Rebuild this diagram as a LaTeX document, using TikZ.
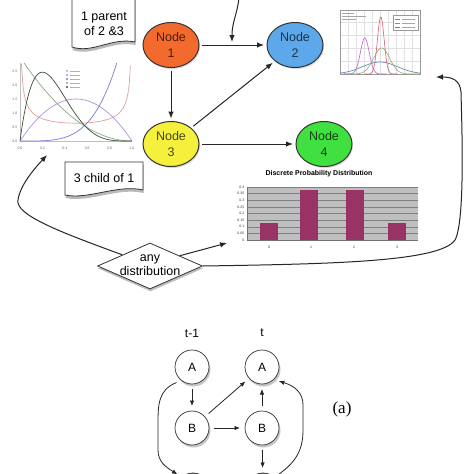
\documentclass[tikz,border=0pt]{standalone}
\usepackage{fontspec}
\setmainfont{Liberation Sans}
\newfontfamily\panelfont{Liberation Serif}
\usetikzlibrary{shapes.geometric,shadows,arrows.meta}
\definecolor{nodeorange}{HTML}{F26A2E}
\definecolor{nodeblue}{HTML}{5CA8EA}
\definecolor{nodeyellow}{HTML}{F5F03C}
\definecolor{nodegreen}{HTML}{40E040}
\definecolor{barplum}{HTML}{993366}
\definecolor{betapink}{HTML}{E0A0A0}
\definecolor{betapurple}{HTML}{B890D8}
\definecolor{betablue}{HTML}{7C7CD0}
\definecolor{betadark}{HTML}{3C4C3C}
\definecolor{betagreen}{HTML}{88A888}
\definecolor{gaussred}{HTML}{D86070}
\definecolor{gaussmag}{HTML}{C060D0}
\definecolor{gaussolive}{HTML}{98A870}
\definecolor{gaussblue}{HTML}{5080B0}
\begin{document}
\begin{tikzpicture}[x=1pt,y=1pt,
  bnode/.style={ellipse,draw=black!80,line width=1pt,minimum width=56pt,minimum height=45pt,inner sep=0pt,outer sep=3pt,align=center,font=\fontsize{12.5}{16}\selectfont,drop shadow={opacity=0.3,shadow xshift=1pt,shadow yshift=-1.5pt}},
  notebox/.style={draw=black!80,fill=white,line width=0.8pt,drop shadow={opacity=0.55,shadow xshift=0.5pt,shadow yshift=-3pt}},
  txt/.style={font=\fontsize{12.5}{14.5}\selectfont,align=center,inner sep=0pt},
  link/.style={draw=black!85,line width=1pt,-{Latex[length=7pt,width=5.5pt]}},
  dbn/.style={circle,draw=black!80,fill=white,line width=0.7pt,minimum size=34pt,inner sep=0pt,outer sep=5pt,font=\fontsize{12}{14}\selectfont,drop shadow={opacity=0.45,shadow xshift=1.5pt,shadow yshift=-2.5pt}},
  dlink/.style={draw=black!85,line width=0.8pt,-{Latex[length=5.5pt,width=4.5pt]}},
  tick/.style={font=\fontsize{3.5}{4}\selectfont,text=black!60,inner sep=0.5pt}]
\useasboundingbox (0,0) rectangle (474,-474);
\fill[white] (0,0) rectangle (474,-474);
\draw[notebox] (72,4) -- (72,-47) .. controls (92,-54) and (112,-37) .. (135,-42) -- (135,4) -- cycle;
\node[txt] (parentnote) at (104,-24) {1 parent\\of 2 \&3};
\draw[notebox] (65,-162) -- (65,-195) .. controls (88,-200) and (118,-184) .. (143,-190) -- (143,-162) -- cycle;
\node[txt] (childnote) at (104,-178) {3 child of 1};
\node[bnode,fill=nodeorange,text=nodeorange!30!black] (n1) at (171,-45) {Node\\1};
\node[bnode,fill=nodeblue,text=nodeblue!30!black] (n2) at (295,-45) {Node\\2};
\node[bnode,fill=nodeyellow,text=nodeyellow!30!black] (n3) at (171,-144) {Node\\3};
\node[bnode,fill=nodegreen,text=nodegreen!30!black] (n4) at (324,-144) {Node\\4};
\draw[link] (n1) -- (n2);
\draw[link] (n1) -- (n3);
\draw[link] (n3) -- (n2);
\draw[link] (n3) -- (n4);
\coordinate (topin) at (239,2);
\coordinate (midlink) at (232,-42);
\draw[link] (topin) .. controls (237,-15) and (232,-22) .. (midlink);
\fill[white] (337,-9) rectangle (423,-76);
\foreach \gx in {340,348,...,420} \draw[black!12,line width=0.3pt] (\gx,-10) -- (\gx,-74);
\foreach \gy in {-61,-48,-35,-22} \draw[black!12,line width=0.3pt] (340,\gy) -- (420,\gy);
\draw[black!40,line width=0.4pt] (340,-10) rectangle (420,-74);
\draw[gaussblue,line width=0.6pt] plot[domain=-5:5,samples=60,smooth] ({380+8*\x},{-74+12*exp(-(\x*\x)/9.68)});
\draw[gaussolive,line width=0.6pt] plot[domain=-5:5,samples=80,smooth] ({380+8*\x},{-74+26*exp(-((\x-0.2)*(\x-0.2))/2)});
\draw[gaussmag,line width=0.6pt] plot[domain=-4.5:0.8,samples=70,smooth] ({380+8*\x},{-74+36*exp(-((\x+1.9)*(\x+1.9))/0.6)});
\draw[gaussred,line width=0.6pt] plot[domain=-2:2.2,samples=80,smooth] ({380+8*\x},{-74+57*exp(-((\x-0.1)*(\x-0.1))/0.35)});
\draw[black!40,fill=white,line width=0.3pt] (393,-15) rectangle (418,-30);
\foreach \ly/\lc in {-19/gaussred,-23/gaussmag,-27/gaussblue} {
  \draw[\lc,line width=0.5pt] (395,\ly) -- (400,\ly);
  \draw[black!35,line width=0.8pt] (402,\ly) -- (415,\ly);
}
\foreach \ly/\ll in {-13/10,-16/22,-19/12} \draw[black!35,line width=0.8pt] (342,\ly) -- ({344+\ll},\ly);
\draw[black!25,line width=0.3pt] (20,-63) -- (20,-141) -- (132,-141);
\foreach \k/\lab in {0/0.0,1/0.5,2/1.0,3/1.5,4/2.0,5/2.5} \node[tick,anchor=east] at (18,{-141+14*\k}) {\lab};
\foreach \k/\lab in {0/0.0,1/0.2,2/0.4,3/0.6,4/0.8,5/1.0} \node[tick] at ({20+22.4*\k},-148) {\lab};
\draw[betapink,line width=0.7pt] plot[domain=0.0135:0.9865,samples=90,smooth] ({20+112*\x},{-141+28/(pi*sqrt(\x*(1-\x)))});
\draw[betapurple,line width=0.7pt] plot[domain=0:1,samples=50,smooth] ({20+112*\x},{-141+28*6*\x*(1-\x)});
\draw[betablue,line width=0.7pt] plot[domain=0:0.864,samples=60,smooth] ({20+112*\x},{-141+28*5*\x^4});
\draw[betagreen,line width=0.7pt] plot[domain=0.036:1,samples=60,smooth] ({20+112*\x},{-141+28*3*(1-\x)^2});
\draw[betadark,line width=0.7pt] plot[domain=0:1,samples=80,smooth] ({20+112*\x},{-141+28*30*\x*(1-\x)^4});
\foreach \ly/\lc in {-71/betapink,-75/betapurple,-79/betablue,-83/betagreen,-87/betadark} {
  \fill[\lc] (67,\ly) circle (1.1pt);
  \draw[black!30,line width=0.8pt] (70,\ly) -- (80,\ly);
}
\node[font=\bfseries\fontsize{7}{8}\selectfont,inner sep=0pt] (bartitle) at (319,-174) {Discrete Probability Distribution};
\fill[black!25] (247,-187) rectangle (418,-240);
\foreach \k in {1,...,8} \draw[black!50,line width=0.5pt] (247,{-240+6.625*\k}) -- (418,{-240+6.625*\k});
\foreach \bx/\bv in {269/0.125,309/0.375,354.5/0.375,397/0.125} \fill[barplum] ({\bx-9},-240) rectangle ({\bx+9},{-240+132.5*\bv});
\draw[black!55,line width=0.5pt] (247,-187) -- (247,-240) -- (418,-240);
\foreach \k/\lab in {0/0,1/0.05,2/0.1,3/0.15,4/0.2,5/0.25,6/0.3,7/0.35,8/0.4} \node[tick,anchor=east,text=black!80] at (245,{-240+6.625*\k}) {\lab};
\foreach \bx/\lab in {269/0,311/1,354/2,397/3} \node[tick,text=black!80] at (\bx,-247) {\lab};
\node[diamond,draw=black!80,fill=white,line width=0.8pt,minimum width=105pt,minimum height=46pt,inner sep=0pt,drop shadow={opacity=0.5,shadow xshift=0.5pt,shadow yshift=-2.5pt}] (anydist) at (150,-266) {};
\node[txt] (anydisttext) at (150,-265) {any\\distribution};
\coordinate (betain) at (47,-155);
\coordinate (barin) at (227,-243);
\coordinate (gaussin) at (436,-77);
\draw[link] (anydist.158) .. controls (60,-232) and (15,-215) .. (18,-200) .. controls (20,-185) and (35,-168) .. (betain);
\draw[link] (anydist.19) -- (barin);
\draw[link] (anydist.east) .. controls (330,-264) and (440,-262) .. (455,-240) .. controls (465,-222) and (462,-130) .. (461,-92) .. controls (460,-80) and (452,-77) .. (gaussin);
\node[font=\fontsize{12}{14}\selectfont] (tprev) at (192,-333) {t-1};
\node[font=\fontsize{12}{14}\selectfont] (tnow) at (262,-333) {t};
\node[dbn] (a1) at (192,-367) {A};
\node[dbn] (a2) at (262,-367) {A};
\node[dbn] (b1) at (192,-428) {B};
\node[dbn] (b2) at (262,-428) {B};
\node[dbn,fill=black!55] (c1) at (193,-490) {};
\node[dbn,fill=black!55] (c2) at (263,-490) {};
\node[font=\panelfont\fontsize{17}{20}\selectfont] (panel) at (342,-409) {(a)};
\draw[dlink] (a1) -- (b1);
\draw[dlink] (b1) -- (a2);
\draw[dlink] (b1) -- (b2);
\draw[dlink] (b2) -- (a2);
\draw[dlink] (b2) -- (c2);
\draw[dlink] (a1.225) .. controls (158,-390) and (158,-405) .. (158,-425) -- (158,-450) .. controls (158,-462) and (166,-467) .. (c1.135);
\draw[dlink] (c2.45) .. controls (296,-462) and (303,-450) .. (303,-430) -- (303,-405) .. controls (303,-393) and (295,-386) .. (a2.-40);
\end{tikzpicture}
\end{document}
